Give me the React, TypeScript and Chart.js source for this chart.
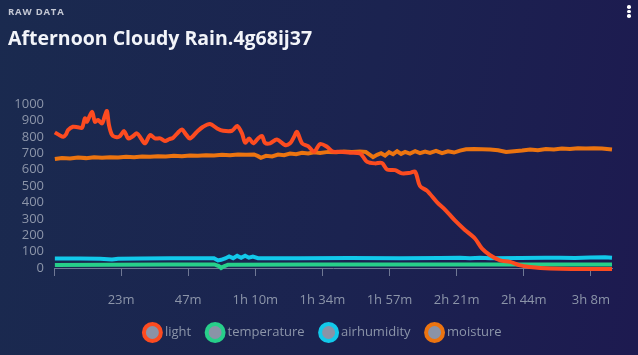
import React, { useEffect, useRef } from 'react';
import { Chart, registerables } from 'chart.js';

Chart.register(...registerables);

// time in minutes
const lightTime = [0.3, 2.1, 3.2, 4.2, 4.9, 6.6, 8.4, 9.8, 10.8, 11.5, 13.3, 14.3, 15.4, 16.8, 17.8, 18.5, 19.2, 20.3, 22.0, 23.1, 24.5, 25.9, 27.3, 29.0, 30.4, 31.8, 33.6, 35.3, 37.1, 38.8, 40.2, 41.6, 43.3, 44.7, 46.1, 47.5, 50.0, 52.1, 54.5, 57.0, 59.1, 62.2, 64.0, 65.7, 66.8, 68.2, 69.6, 71.3, 72.7, 73.7, 75.5, 77.9, 80.7, 82.5, 83.9, 84.9, 86.7, 88.8, 90.9, 93.0, 95.4, 97.5, 100.0, 103.5, 106.9, 108.0, 109.4, 112.2, 114.6, 116.4, 119.2, 121.6, 124.4, 126.2, 127.9, 130.4, 133.9, 136.7, 140.1, 143.6, 147.1, 149.6, 152.4, 155.9, 159.4, 162.9, 166.4, 169.9, 176.8, 183.8, 195.0];
const lightValues = [827, 808, 800, 815, 841, 861, 858, 855, 913, 892, 953, 892, 902, 882, 930, 957, 872, 811, 797, 805, 835, 790, 800, 821, 790, 760, 811, 790, 790, 774, 785, 794, 825, 845, 815, 790, 831, 861, 878, 851, 837, 837, 866, 821, 764, 790, 760, 790, 805, 764, 760, 784, 750, 760, 800, 830, 760, 743, 709, 756, 739, 709, 709, 703, 699, 678, 648, 638, 640, 601, 597, 577, 580, 587, 500, 470, 400, 355, 290, 232, 180, 118, 78, 47, 37, 16, 6, 0, -5, -6, -6];

const temperatureTime = [0.3, 20, 40, 56.0, 57.6, 58.4, 59.4, 60.8, 90, 130, 160, 195];
const temperatureValues = [18, 20, 21, 22, 12, 0, 10, 20, 21, 21, 22, 22];

const airhumidityTime = [0.3, 9.1, 16.1, 18.9, 20.3, 22.4, 30.1, 40.5, 51.0, 55.9, 57.3, 58.4, 59.8, 61.2, 62.6, 64.0, 65.4, 66.8, 68.1, 69.5, 71.3, 86.0, 103.4, 120.9, 134.9, 141.9, 145.4, 148.9, 152.4, 162.9, 171.6, 176.8, 182.1, 187.3, 192.6, 195.0];
const airhumidityValues = [58, 58, 57, 54, 52, 56, 58, 59, 60, 60, 46, 50, 58, 70, 60, 74, 62, 75, 63, 70, 60, 60, 61, 60, 61, 63, 60, 63, 60, 61, 62, 63, 61, 64, 65, 62];

const moistureTime = [0.3, 2.8, 5.6, 8.4, 11.2, 14.0, 16.8, 19.6, 22.4, 25.2, 28.0, 30.8, 33.6, 36.3, 39.1, 41.9, 44.7, 47.5, 50.3, 53.1, 55.9, 58.7, 61.5, 64.3, 67.1, 69.9, 71.3, 72.3, 74.1, 76.2, 78.3, 80.4, 82.5, 84.6, 86.7, 88.8, 90.9, 93.0, 95.8, 98.6, 101.3, 104.1, 106.9, 109.0, 110.4, 111.5, 112.9, 114.3, 115.7, 117.1, 118.5, 119.9, 121.3, 122.7, 124.4, 126.2, 127.9, 129.7, 131.4, 133.5, 135.6, 137.7, 139.8, 141.9, 144.0, 146.8, 149.6, 152.4, 155.2, 158.0, 160.8, 163.6, 166.4, 169.1, 171.9, 174.7, 177.5, 180.3, 183.1, 185.9, 188.7, 191.5, 195.0];
const moistureValues = [664, 670, 668, 673, 670, 675, 672, 676, 674, 678, 676, 680, 678, 682, 680, 684, 682, 686, 685, 688, 686, 690, 688, 692, 690, 692, 682, 672, 684, 680, 692, 688, 698, 694, 702, 698, 705, 702, 708, 706, 710, 708, 710, 707, 690, 676, 690, 700, 686, 706, 694, 712, 696, 708, 698, 712, 700, 710, 702, 714, 700, 712, 704, 716, 724, 726, 724, 722, 718, 708, 712, 716, 722, 718, 726, 722, 728, 726, 730, 728, 730, 728, 722];

const xTickValues = [0, 23.45, 46.9, 70.35, 93.8, 117.25, 140.7, 164.15, 187.6];
const xTickLabels = ['', '23m', '47m', '1h 10m', '1h 34m', '1h 57m', '2h 21m', '2h 44m', '3h 8m'];
const yTickLabels = ['0', '100', '200', '300', '400', '500', '600', '700', '800', '900', '1000'];

const seriesNames = ['light', 'temperature', 'airhumidity', 'moisture'];
const seriesColors = ['#fc4b20', '#27cf8a', '#12c9ea', '#ec7410'];

const toPoints = (t: number[], v: number[]) => t.map((x, i) => ({ x, y: v[i] }));

export default function App() {
  const ref = useRef<HTMLCanvasElement | null>(null);
  useEffect(() => {
    document.body.style.margin = '0';
    const canvas = ref.current;
    if (!canvas) return;
    Chart.defaults.font.family = "'Open Sans', sans-serif";
    const allT = [lightTime, temperatureTime, airhumidityTime, moistureTime];
    const allV = [lightValues, temperatureValues, airhumidityValues, moistureValues];
    const chart = new Chart(canvas, {
      type: 'line',
      data: {
        datasets: seriesNames.map((name, i) => ({
          label: name,
          data: toPoints(allT[i], allV[i]),
          borderColor: seriesColors[i],
          backgroundColor: '#8a93a7',
          borderWidth: 4,
          pointRadius: 0,
          tension: i === 0 ? 0.3 : 0,
          clip: false as any,
          fill: false,
          yAxisID: 'y',
        })),
      },
      options: {
        animation: false,
        responsive: false,
        maintainAspectRatio: false,
        layout: { padding: { top: 104, bottom: 6, left: 10, right: 0 } },
        plugins: {
          tooltip: { enabled: false },
          legend: {
            position: 'bottom',
            labels: {
              usePointStyle: true,
              pointStyle: 'circle',
              boxHeight: 12,
              boxWidth: 12,
              padding: 18,
              color: '#8c95a9',
              font: { size: 13 },
            },
          },
        },
        scales: {
          x: {
            type: 'linear',
            min: 0,
            max: 195,
            afterBuildTicks: (scale: any) => {
              scale.ticks = xTickValues.map((v) => ({ value: v }));
            },
            afterFit: (scale: any) => {
              scale.height = 40;
            },
            ticks: {
              color: '#8c95a9',
              font: { size: 13 },
              padding: 16,
              maxRotation: 0,
              autoSkip: false,
              callback: (_v: any, i: number) => xTickLabels[i],
            },
            grid: { drawOnChartArea: false, drawTicks: true, tickLength: 8, color: '#6f7894' },
            border: { display: true, color: '#6f7894' },
          },
          y: {
            min: 0,
            max: 1000,
            afterFit: (scale: any) => {
              scale.width = 44;
            },
            ticks: {
              stepSize: 100,
              autoSkip: false,
              color: '#8c95a9',
              font: { size: 13 },
              padding: 10,
              callback: (_v: any, i: number) => yTickLabels[i],
            },
            grid: { display: false, drawTicks: false },
            border: { display: false },
          },
          yRight: {
            position: 'right',
            min: 0,
            max: 1000,
            afterFit: (scale: any) => {
              scale.width = 26;
            },
            ticks: { display: false },
            grid: { display: false, drawTicks: false },
            border: { display: false },
          },
        },
      },
    });
    return () => chart.destroy();
  }, []);

  return (
    <div
      style={{
        position: 'fixed',
        left: 0,
        top: 0,
        width: 638,
        height: 355,
        overflow: 'hidden',
        background: 'linear-gradient(100deg, #1a2a4f 0%, #1b2350 55%, #1d1a50 100%)',
        fontFamily: "'Open Sans', sans-serif",
      }}
    >
      <canvas ref={ref} width={638} height={355} style={{ position: 'absolute', left: 0, top: 0, width: 638, height: 355 }} />
      <div
        style={{
          position: 'absolute',
          left: 8,
          top: 6,
          fontSize: 9.5,
          lineHeight: '12px',
          fontWeight: 700,
          letterSpacing: 0.8,
          color: '#c3c7d3',
        }}
      >
        RAW DATA
      </div>
      <div
        style={{
          position: 'absolute',
          left: 8,
          top: 24,
          fontSize: 19.5,
          lineHeight: '28px',
          fontWeight: 700,
          color: '#f2f4f9',
          whiteSpace: 'nowrap',
        }}
      >
        Afternoon Cloudy Rain.4g68ij37
      </div>
      {[5, 9.5, 14].map((t) => (
        <div
          key={t}
          style={{ position: 'absolute', left: 627, top: t, width: 3.6, height: 3.6, borderRadius: '50%', background: '#ffffff' }}
        />
      ))}
    </div>
  );
}
